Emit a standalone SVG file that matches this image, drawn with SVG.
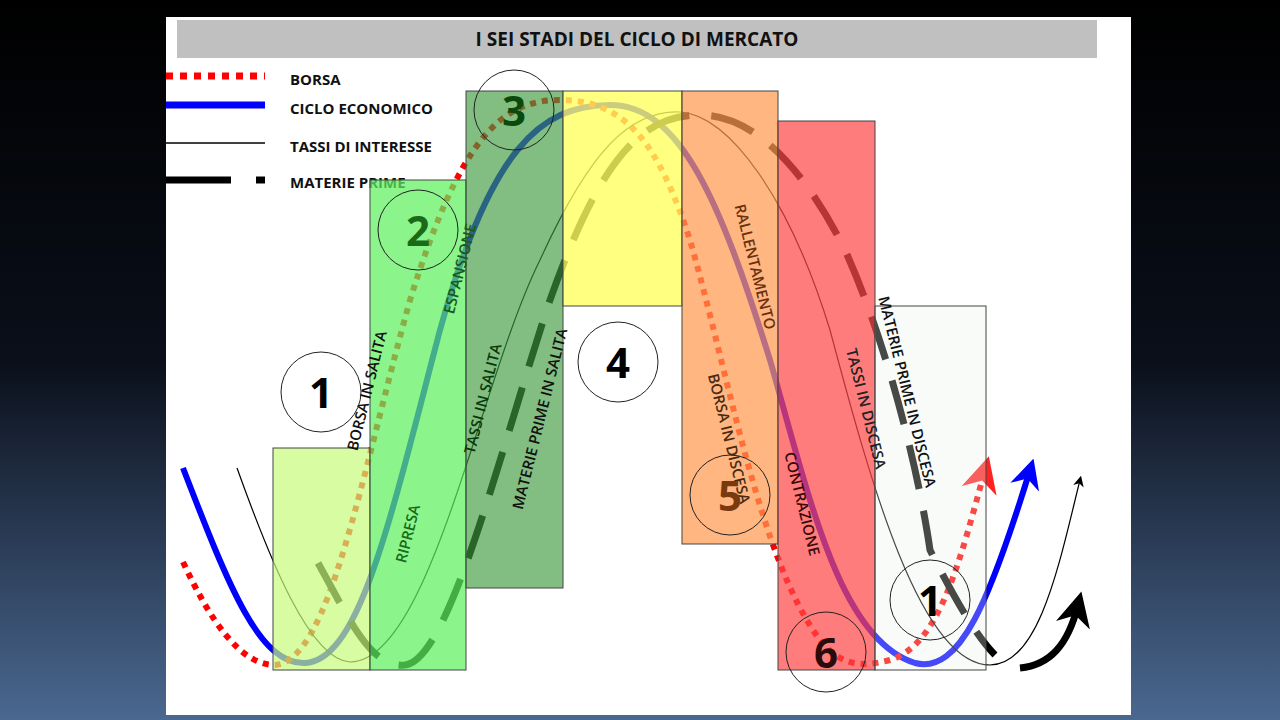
<svg xmlns="http://www.w3.org/2000/svg" width="1280" height="720" viewBox="0 0 1280 720">
<defs>
<linearGradient id="bg" x1="0" y1="0" x2="0" y2="1"><stop offset="0" stop-color="#000"/><stop offset="0.5" stop-color="#0a0f1a"/><stop offset="1" stop-color="#4a6890"/></linearGradient>
<marker id="ab" viewBox="0 0 10 10" refX="6" refY="5" markerWidth="5" markerHeight="5" orient="auto"><path d="M0,0 L10,5 L0,10 L3,5 z" fill="#00f"/></marker>
<marker id="ar" viewBox="0 0 10 10" refX="6" refY="5" markerWidth="6" markerHeight="6" orient="auto"><path d="M0,0 L10,5 L0,10 L3,5 z" fill="#f22"/></marker>
<marker id="ak" viewBox="0 0 10 10" refX="6" refY="5" markerWidth="5" markerHeight="5" orient="auto"><path d="M0,0 L10,5 L0,10 L3,5 z" fill="#000"/></marker>
<marker id="ak2" viewBox="0 0 10 10" refX="6" refY="5" markerWidth="9" markerHeight="9" orient="auto"><path d="M0,0 L10,5 L0,10 L3,5 z" fill="#000"/></marker>
</defs>
<style>
.t{font-family:"Open Sans","Liberation Sans",sans-serif;font-weight:bold;font-size:15px;fill:#111}
.r{font-family:"Open Sans","Liberation Sans",sans-serif;font-weight:600;font-size:15px;text-anchor:middle}
.c{fill:none;stroke:#222;stroke-width:1}
.n{font-family:"Open Sans","Liberation Sans",sans-serif;font-weight:bold;font-size:42px;text-anchor:middle}
.box{stroke:#444;stroke-width:1}
</style>
<rect width="1280" height="720" fill="url(#bg)"/>
<rect x="166" y="17" width="965" height="698" fill="#fff"/>
<rect x="177" y="20" width="920" height="38" fill="#c0c0c0"/>
<text x="637" y="46" class="t" text-anchor="middle" style="font-size:19px">I SEI STADI DEL CICLO DI MERCATO</text>
<g id="legend">
<line x1="166" y1="76" x2="265" y2="76" stroke="#f00" stroke-width="7" stroke-dasharray="7,7"/>
<line x1="166" y1="105" x2="265" y2="105" stroke="#00f" stroke-width="7"/>
<line x1="166" y1="143" x2="265" y2="143" stroke="#000" stroke-width="1.5"/>
<line x1="166" y1="180" x2="231" y2="180" stroke="#000" stroke-width="7"/>
<line x1="256" y1="180" x2="265" y2="180" stroke="#000" stroke-width="7"/>
<text x="290" y="85" class="t">BORSA</text>
<text x="290" y="114" class="t">CICLO ECONOMICO</text>
<text x="290" y="152" class="t">TASSI DI INTERESSE</text>
<text x="290" y="188" class="t">MATERIE PRIME</text>
</g>
<g id="connectors" fill="none">
<path d="M183,468 C230,590 260,665 305,663 C360,660 390,520 440,330 C490,150 540,105 610,105 C680,105 720,200 770,360 C810,500 840,640 915,663 C960,675 990,600 1030,470" stroke="#00f" stroke-width="6" marker-end="url(#ab)"/>
<path d="M183,562 C210,620 240,665 275,665 C330,660 360,480 410,300 C460,140 500,100 560,100 C630,100 660,150 690,240 C730,380 760,560 820,640 C840,665 860,668 890,660 C940,645 960,560 985,470" stroke="#f00" stroke-width="6" stroke-dasharray="6,6" marker-end="url(#ar)"/>
<path d="M237,468 C270,560 310,660 350,662 C430,662 480,380 540,260 C590,150 630,110 680,112 C730,115 790,200 830,330 C870,480 920,665 990,665 C1040,665 1060,560 1080,480" stroke="#000" stroke-width="1.2" marker-end="url(#ak2)"/>
<path d="M318,563 C350,620 370,668 405,665 C450,660 500,450 550,300 C600,160 640,115 700,115 C760,115 810,180 845,250 C890,350 920,480 930,550 C960,610 980,640 995,655" stroke="#000" stroke-width="7" stroke-dasharray="45,22"/>
<path d="M1020,668 C1050,665 1068,645 1078,605" stroke="#000" stroke-width="7" marker-end="url(#ak)"/>
</g>
<g id="boxes">
<rect id="s1" class="box" x="273" y="448" width="97" height="222" fill="#c6fb7a" fill-opacity="0.7"/>
<rect id="s2" class="box" x="370" y="180" width="96" height="490" fill="#5ef05e" fill-opacity="0.72"/>
<rect id="s3" class="box" x="466" y="91" width="97" height="497" fill="#3f9a3f" fill-opacity="0.65"/>
<rect id="s4" class="box" x="563" y="91" width="119" height="215" fill="#ffff60" fill-opacity="0.8"/>
<rect id="s5" class="box" x="682" y="91" width="96" height="453" fill="#ff9a50" fill-opacity="0.72"/>
<rect id="s6" class="box" x="778" y="121" width="97" height="549" fill="#ff4a4a" fill-opacity="0.72"/>
<rect id="s7" class="box" x="875" y="306" width="111" height="364" fill="#e8f2e8" fill-opacity="0.3"/>
</g>
<g id="labels">
<text class="r" transform="translate(372,392) rotate(-76)" fill="#111">BORSA IN SALITA</text>
<text class="r" transform="translate(413,535) rotate(-76)" fill="#1a6a1a">RIPRESA</text>
<text class="r" transform="translate(465,270) rotate(-76)" fill="#1a5a1a">ESPANSIONE</text>
<text class="r" transform="translate(488,400) rotate(-76)" fill="#0a3a0a">TASSI IN SALITA</text>
<text class="r" transform="translate(545,420) rotate(-76)" fill="#111">MATERIE PRIME IN SALITA</text>
<text class="r" transform="translate(750,268) rotate(76)" fill="#6a3010">RALLENTAMENTO</text>
<text class="r" transform="translate(724,440) rotate(76)" fill="#4a2a10">BORSA IN DISCESA</text>
<text class="r" transform="translate(797,505) rotate(76)" fill="#3a0a0a">CONTRAZIONE</text>
<text class="r" transform="translate(861,410) rotate(76)" fill="#222">TASSI IN DISCESA</text>
<text class="r" transform="translate(902,393) rotate(76)" fill="#111">MATERIE PRIME IN DISCESA</text>
</g>
<g id="n1"><circle class="c" cx="321" cy="392" r="40"/><text class="n" x="321" y="408" fill="#000">1</text></g>
<g id="n2"><circle class="c" cx="418" cy="230" r="40"/><text class="n" x="418" y="246" fill="#1a6a1a">2</text></g>
<g id="n3"><circle class="c" cx="514" cy="110" r="40"/><text class="n" x="514" y="126" fill="#0a4a0a">3</text></g>
<g id="n4"><circle class="c" cx="618" cy="362" r="40"/><text class="n" x="618" y="378" fill="#000">4</text></g>
<g id="n5"><circle class="c" cx="730" cy="495" r="40"/><text class="n" x="730" y="511" fill="#7a3a10">5</text></g>
<g id="n6"><circle class="c" cx="826" cy="652" r="40"/><text class="n" x="826" y="668" fill="#2a0a0a">6</text></g>
<g id="n1b"><circle class="c" cx="930" cy="600" r="40"/><text class="n" x="930" y="616" fill="#000">1</text></g>
</svg>
